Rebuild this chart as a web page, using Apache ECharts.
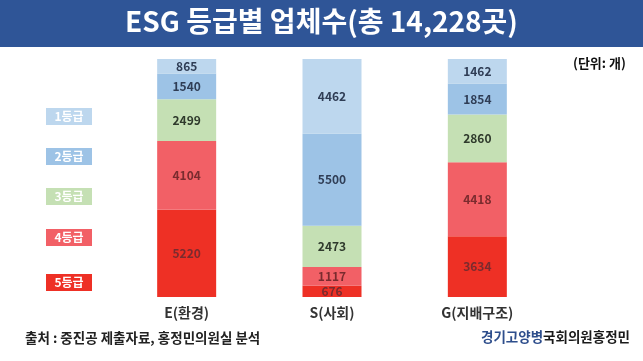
<!DOCTYPE html>
<html><head><meta charset="utf-8">
<script src="https://cdn.jsdelivr.net/npm/echarts@6/dist/echarts.min.js"></script>
<style>html,body{margin:0;padding:0;background:#fff}#c{width:643px;height:361px}</style>
</head><body><div id="c"></div>
<script>
const titleText = 'ESG 등급별 업체수(총 14,228곳)';
const categories = ['E(환경)', 'S(사회)', 'G(지배구조)'];
const grades = ['1등급', '2등급', '3등급', '4등급', '5등급'];
const grade1 = [865, 4462, 1462];
const grade2 = [1540, 5500, 1854];
const grade3 = [2499, 2473, 2860];
const grade4 = [4104, 1117, 4418];
const grade5 = [5220, 676, 3634];
const unitText = '(단위: 개)';
const sourceText = '출처 : 중진공 제출자료, 홍정민의원실 분석';
const creditA = '경기고양병';
const creditB = '국회의원홍정민';

const gradeValues = [grade1, grade2, grade3, grade4, grade5];
const gradeColors = ['#BDD7EE', '#9DC3E6', '#C5E0B4', '#F26066', '#EE3025'];
const labelColors = ['#2F3D55', '#2F3D55', '#2F3A2C', '#7A2B2E', '#7A2B2E'];
const legendTops = [108, 148, 188, 229, 274];
const total = grade1[0] + grade2[0] + grade3[0] + grade4[0] + grade5[0];
const FONT = '"Noto Sans CJK KR", "Noto Sans", sans-serif';

const series = [];
for (let i = grades.length - 1; i >= 0; i--) {
  series.push({
    name: grades[i], type: 'bar', stack: 'all', barWidth: 59,
    data: gradeValues[i],
    itemStyle: { color: gradeColors[i] },
    label: { show: true, position: 'inside', color: labelColors[i], fontSize: 12, fontWeight: 'bold', fontFamily: FONT },
    emphasis: { disabled: true }
  });
}

const graphic = [
  { type: 'rect', left: 0, top: 0, shape: { width: 643, height: 47 }, style: { fill: '#2F5597' } },
  { type: 'text', left: 'center', top: 7, style: { text: titleText, fill: '#fff', font: 'bold 28px ' + FONT } },
  { type: 'text', left: 573, top: 57, style: { text: unitText, fill: '#111', font: 'bold 13px ' + FONT } },
  { type: 'text', left: 25, top: 331, style: { text: sourceText, fill: '#222', font: 'bold 13.5px ' + FONT } },
  { type: 'text', right: 13, top: 330, style: {
      text: '{a|' + creditA + '}{b|' + creditB + '}',
      rich: { a: { fill: '#2E4E8C', fontSize: 13.5, fontWeight: 'bold', fontFamily: FONT },
              b: { fill: '#1A1A1A', fontSize: 13.5, fontWeight: 'bold', fontFamily: FONT } } } }
];
grades.forEach((g, i) => {
  graphic.push({
    type: 'rect', left: 46, top: legendTops[i], shape: { width: 46, height: 17 },
    style: { fill: gradeColors[i] },
    textContent: { style: { text: g, fill: '#fff', font: 'bold 12px ' + FONT } },
    textConfig: { position: 'inside' }
  });
});

const chart = echarts.init(document.getElementById('c'), null, { renderer: 'canvas' });
chart.setOption({
  animation: false,
  grid: { left: 114, right: 93, top: 59, bottom: 64 },
  xAxis: { type: 'category', data: categories,
    axisLine: { show: false }, axisTick: { show: false },
    axisLabel: { margin: 9, color: '#333', fontSize: 14, fontWeight: 'bold', fontFamily: FONT } },
  yAxis: { type: 'value', min: 0, max: total, show: false, splitLine: { show: false } },
  series: series,
  graphic: graphic
});
</script></body></html>
